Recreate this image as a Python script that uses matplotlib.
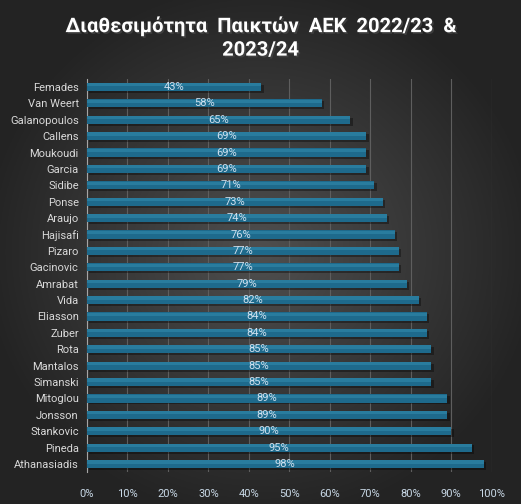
import numpy as np
import matplotlib
matplotlib.use('Agg')
import matplotlib.pyplot as plt
import matplotlib.patheffects as pe
from matplotlib.ticker import PercentFormatter

players = ['Femades', 'Van Weert', 'Galanopoulos', 'Callens', 'Moukoudi', 'Garcia',
           'Sidibe', 'Ponse', 'Araujo', 'Hajisafi', 'Pizaro', 'Gacinovic', 'Amrabat',
           'Vida', 'Eliasson', 'Zuber', 'Rota', 'Mantalos', 'Simanski', 'Mitoglou',
           'Jonsson', 'Stankovic', 'Pineda', 'Athanasiadis']
availability = [43, 58, 65, 69, 69, 69, 71, 73, 74, 76, 77, 77, 79, 82, 84, 84,
                85, 85, 85, 89, 89, 90, 95, 98]
x_ticks = [0, 10, 20, 30, 40, 50, 60, 70, 80, 90, 100]

plt.rcParams['font.family'] = ['Roboto', 'DejaVu Sans']

fig = plt.figure(figsize=(5.21, 5.04), dpi=100)

# radial gradient background
bg = fig.add_axes([0, 0, 1, 1], zorder=-10)
yy, xx = np.mgrid[-1:1:300j, -1:1:300j]
r = np.sqrt(xx**2 + yy**2)
shade = np.clip(0.31 - 0.16 * r, 0.14, 0.31)
bg.imshow(np.dstack([shade, shade, shade]), aspect='auto', extent=[0, 1, 0, 1])
bg.axis('off')

ax = fig.add_axes([0.167, 0.0631, 0.777, 0.7806])
ax.patch.set_alpha(0)
y = np.arange(len(players))

# shadow then bar
ax.barh(y + 0.12, availability, height=0.5, left=0.6, color='black', alpha=0.35, zorder=2)
ax.barh(y, availability, height=0.5, color='#1e6a8c', zorder=3)
ax.barh(y - 0.13, availability, height=0.2, color='#3189ab', alpha=0.6, zorder=4)

for yi, v in zip(y, availability):
    ax.text(v / 2, yi, f'{v}%', ha='center', va='center', fontsize=8,
            color='#cfe0ee', zorder=5)

ax.set_ylim(len(players) - 0.5, -0.5)
ax.set_xlim(0, 100)
ax.set_yticks(y)
ax.set_yticklabels(players, fontsize=8, color='#d9d9d9')
ax.set_xticks(x_ticks)
ax.xaxis.set_major_formatter(PercentFormatter(decimals=0))
ax.tick_params(axis='x', colors='#c8d8e6', labelsize=8, length=0, pad=12)
ax.tick_params(axis='y', length=0, pad=6)
ax.grid(axis='x', color='#5e5e5e', linewidth=0.8, zorder=0)
for side in ['top', 'right', 'bottom']:
    ax.spines[side].set_visible(False)
ax.spines['left'].set_color('#a6a6a6')
ax.spines['left'].set_linewidth(0.8)

fig.text(0.5, 0.968, 'Διαθεσιμότητα  Παικτών  ΑΕΚ  2022/23  &\n2023/24', ha='center',
         va='top', fontsize=14.5, fontweight='bold', color='white', linespacing=1.3,
         path_effects=[pe.withSimplePatchShadow(offset=(1.2, -1.2), alpha=0.6)])

fig.savefig('out.png', dpi=100)
